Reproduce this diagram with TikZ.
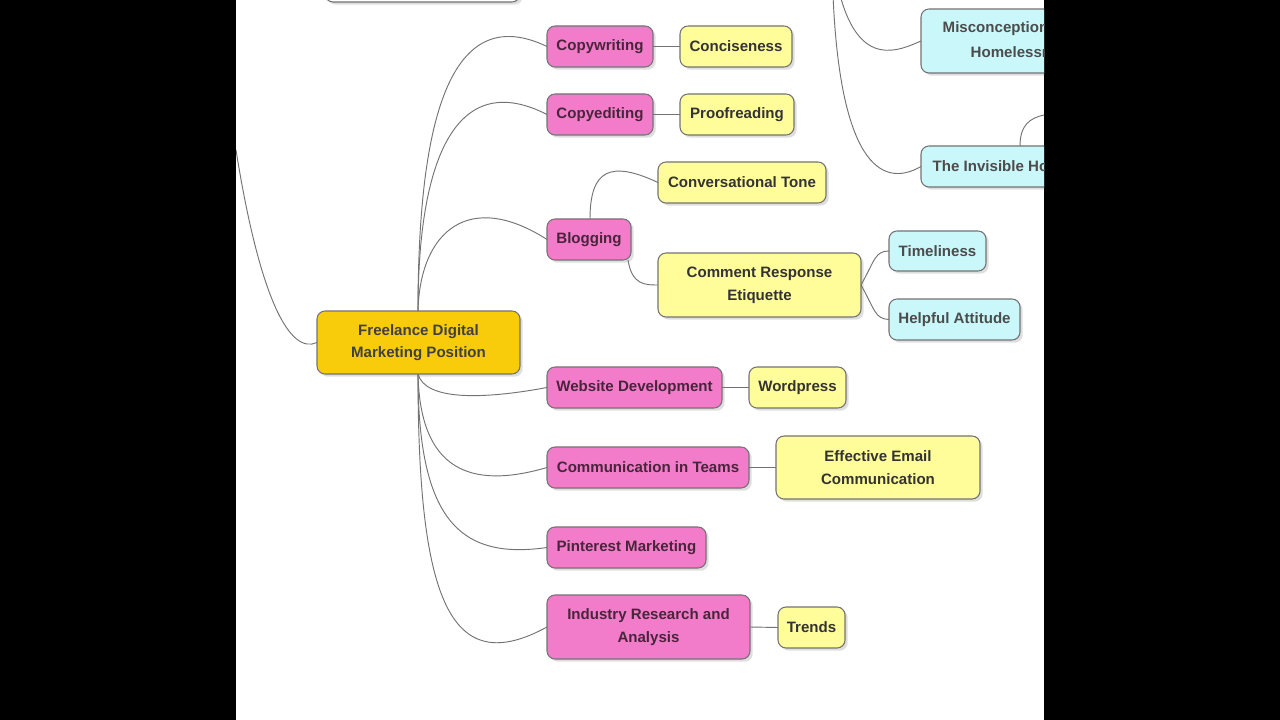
\documentclass[tikz,border=0pt]{standalone}
\usepackage{fontspec}
\setmainfont{Liberation Sans}
\usetikzlibrary{shadows}
\definecolor{pk}{HTML}{F27CC9}
\definecolor{yl}{HTML}{FFFD99}
\definecolor{cy}{HTML}{C9F7FA}
\definecolor{gd}{HTML}{F8CC0B}
\begin{document}
\begin{tikzpicture}[x=0.75pt,y=-0.75pt,
 box/.style={draw=black!55,line width=0.8pt,rounded corners=6pt,align=center,drop shadow={shadow xshift=2pt,shadow yshift=-2pt,fill=black!25},inner sep=0pt,outer sep=0pt},
 con/.style={draw=black!55,line width=0.7pt}]
\fill[black] (0,0) rectangle (1280,720);
\fill[white] (236,0) rectangle (1044,720);
\useasboundingbox (0,0) rectangle (1280,720);
\begin{scope}
\clip (236,0) rectangle (1044,720);
\newcommand\bx[6]{\node[box,fill=#5,minimum width={(#3-#1)*0.75pt},minimum height={(#4-#2)*0.75pt}] (#6) at ({(#1+#3)/2},{(#2+#4)/2}) {};}
\bx{325}{-40}{520}{2}{white}{top}
\bx{317}{311}{520}{374}{gd}{c}
\bx{547}{26}{653}{67}{pk}{cw}
\bx{680}{26}{792}{67}{yl}{cc}
\bx{547}{94}{653}{135}{pk}{ce}
\bx{680}{94}{794}{135}{yl}{pr}
\bx{547}{219}{631}{260}{pk}{bl}
\bx{658}{162}{826}{203}{yl}{ct}
\bx{658}{253}{861}{317}{yl}{cr}
\bx{889}{231}{986}{271}{cy}{tl}
\bx{889}{299}{1020}{340}{cy}{ha}
\bx{547}{367}{722}{408}{pk}{wd}
\bx{749}{367}{846}{408}{yl}{wp}
\bx{547}{447}{749}{488}{pk}{ct2}
\bx{776}{436}{980}{499}{yl}{ee}
\bx{547}{527}{706}{568}{pk}{pm}
\bx{547}{595}{750}{659}{pk}{ir}
\bx{778}{607}{845}{648}{yl}{tr}
\bx{921}{9}{1110}{73}{cy}{mc}
\bx{921}{146}{1110}{187}{cy}{ih}
\tikzset{t/.style={font=\fontsize{11.3}{17}\selectfont\bfseries,text=black!80,align=center}}
\node[t,text=black!75] at (c) {Freelance Digital\\Marketing Position};
\node[t,text=black!70!pk] at (cw) {Copywriting};
\node[t] at (cc) {Conciseness};
\node[t,text=black!70!pk] at (ce) {Copyediting};
\node[t] at (pr) {Proofreading};
\node[t,text=black!70!pk] at (bl) {Blogging};
\node[t] at (ct) {Conversational Tone};
\node[t] at (cr) {Comment Response\\Etiquette};
\node[t,text=black!70] at (tl) {Timeliness};
\node[t,text=black!70] at (ha) {Helpful Attitude};
\node[t,text=black!70!pk] at (wd) {Website Development};
\node[t] at (wp) {Wordpress};
\node[t,text=black!70!pk] at (ct2) {Communication in Teams};
\node[t] at (ee) {Effective Email\\Communication};
\node[t,text=black!70!pk] at (pm) {Pinterest Marketing};
\node[t,text=black!70!pk] at (ir) {Industry Research and\\Analysis};
\node[t] at (tr) {Trends};
\node[t,text=black!70,anchor=west] at (938,29) {Misconceptions of};
\node[t,text=black!70,anchor=west] at (966,52) {Homelessness};
\node[t,text=black!70,anchor=west] at (928,166) {The Invisible Homeless};
\coordinate (ct0) at (418,311);
\coordinate (cb0) at (418,374);
\draw[con] (ct0) .. controls (418,120) and (450,0) .. (cw.west);
\draw[con] (ct0) .. controls (418,150) and (460,70) .. (ce.west);
\draw[con] (ct0) .. controls (420,230) and (470,190) .. (bl.west);
\draw[con] (cb0) .. controls (425,400) and (480,400) .. (wd.west);
\draw[con] (cb0) .. controls (420,470) and (470,490) .. (ct2.west);
\draw[con] (cb0) .. controls (418,520) and (460,560) .. (pm.west);
\draw[con] (cb0) .. controls (418,600) and (450,680) .. (ir.west);
\coordinate (l0) at (236,150);
\draw[con] (c.west) .. controls (290,355) and (260,300) .. (l0);
\draw[con] (cw.east) -- (cc.west);
\draw[con] (ce.east) -- (pr.west);
\draw[con] (wd.east) -- (wp.west);
\draw[con] (ct2.east) -- (ee.west);
\draw[con] (ir.east) -- (tr.west);
\coordinate (b1) at (590,219);
\coordinate (b2) at (628,260);
\draw[con] (b1) .. controls (590,170) and (610,160) .. (ct.west);
\draw[con] (b2) .. controls (632,285) and (645,285) .. (cr.west);
\draw[con] (cr.east) .. controls (875,260) and (875,251) .. (tl.west);
\draw[con] (cr.east) .. controls (875,310) and (875,319) .. (ha.west);
\coordinate (m0) at (840,-5);
\coordinate (m1) at (833,-5);
\coordinate (i0) at (1044,115);
\coordinate (i1) at (1020,146);
\draw[con] (m0) .. controls (860,70) and (900,50) .. (mc.west);
\draw[con] (m1) .. controls (840,160) and (880,190) .. (ih.west);
\draw[con] (i1) .. controls (1020,125) and (1030,118) .. (i0);
\end{scope}
\end{tikzpicture}
\end{document}
